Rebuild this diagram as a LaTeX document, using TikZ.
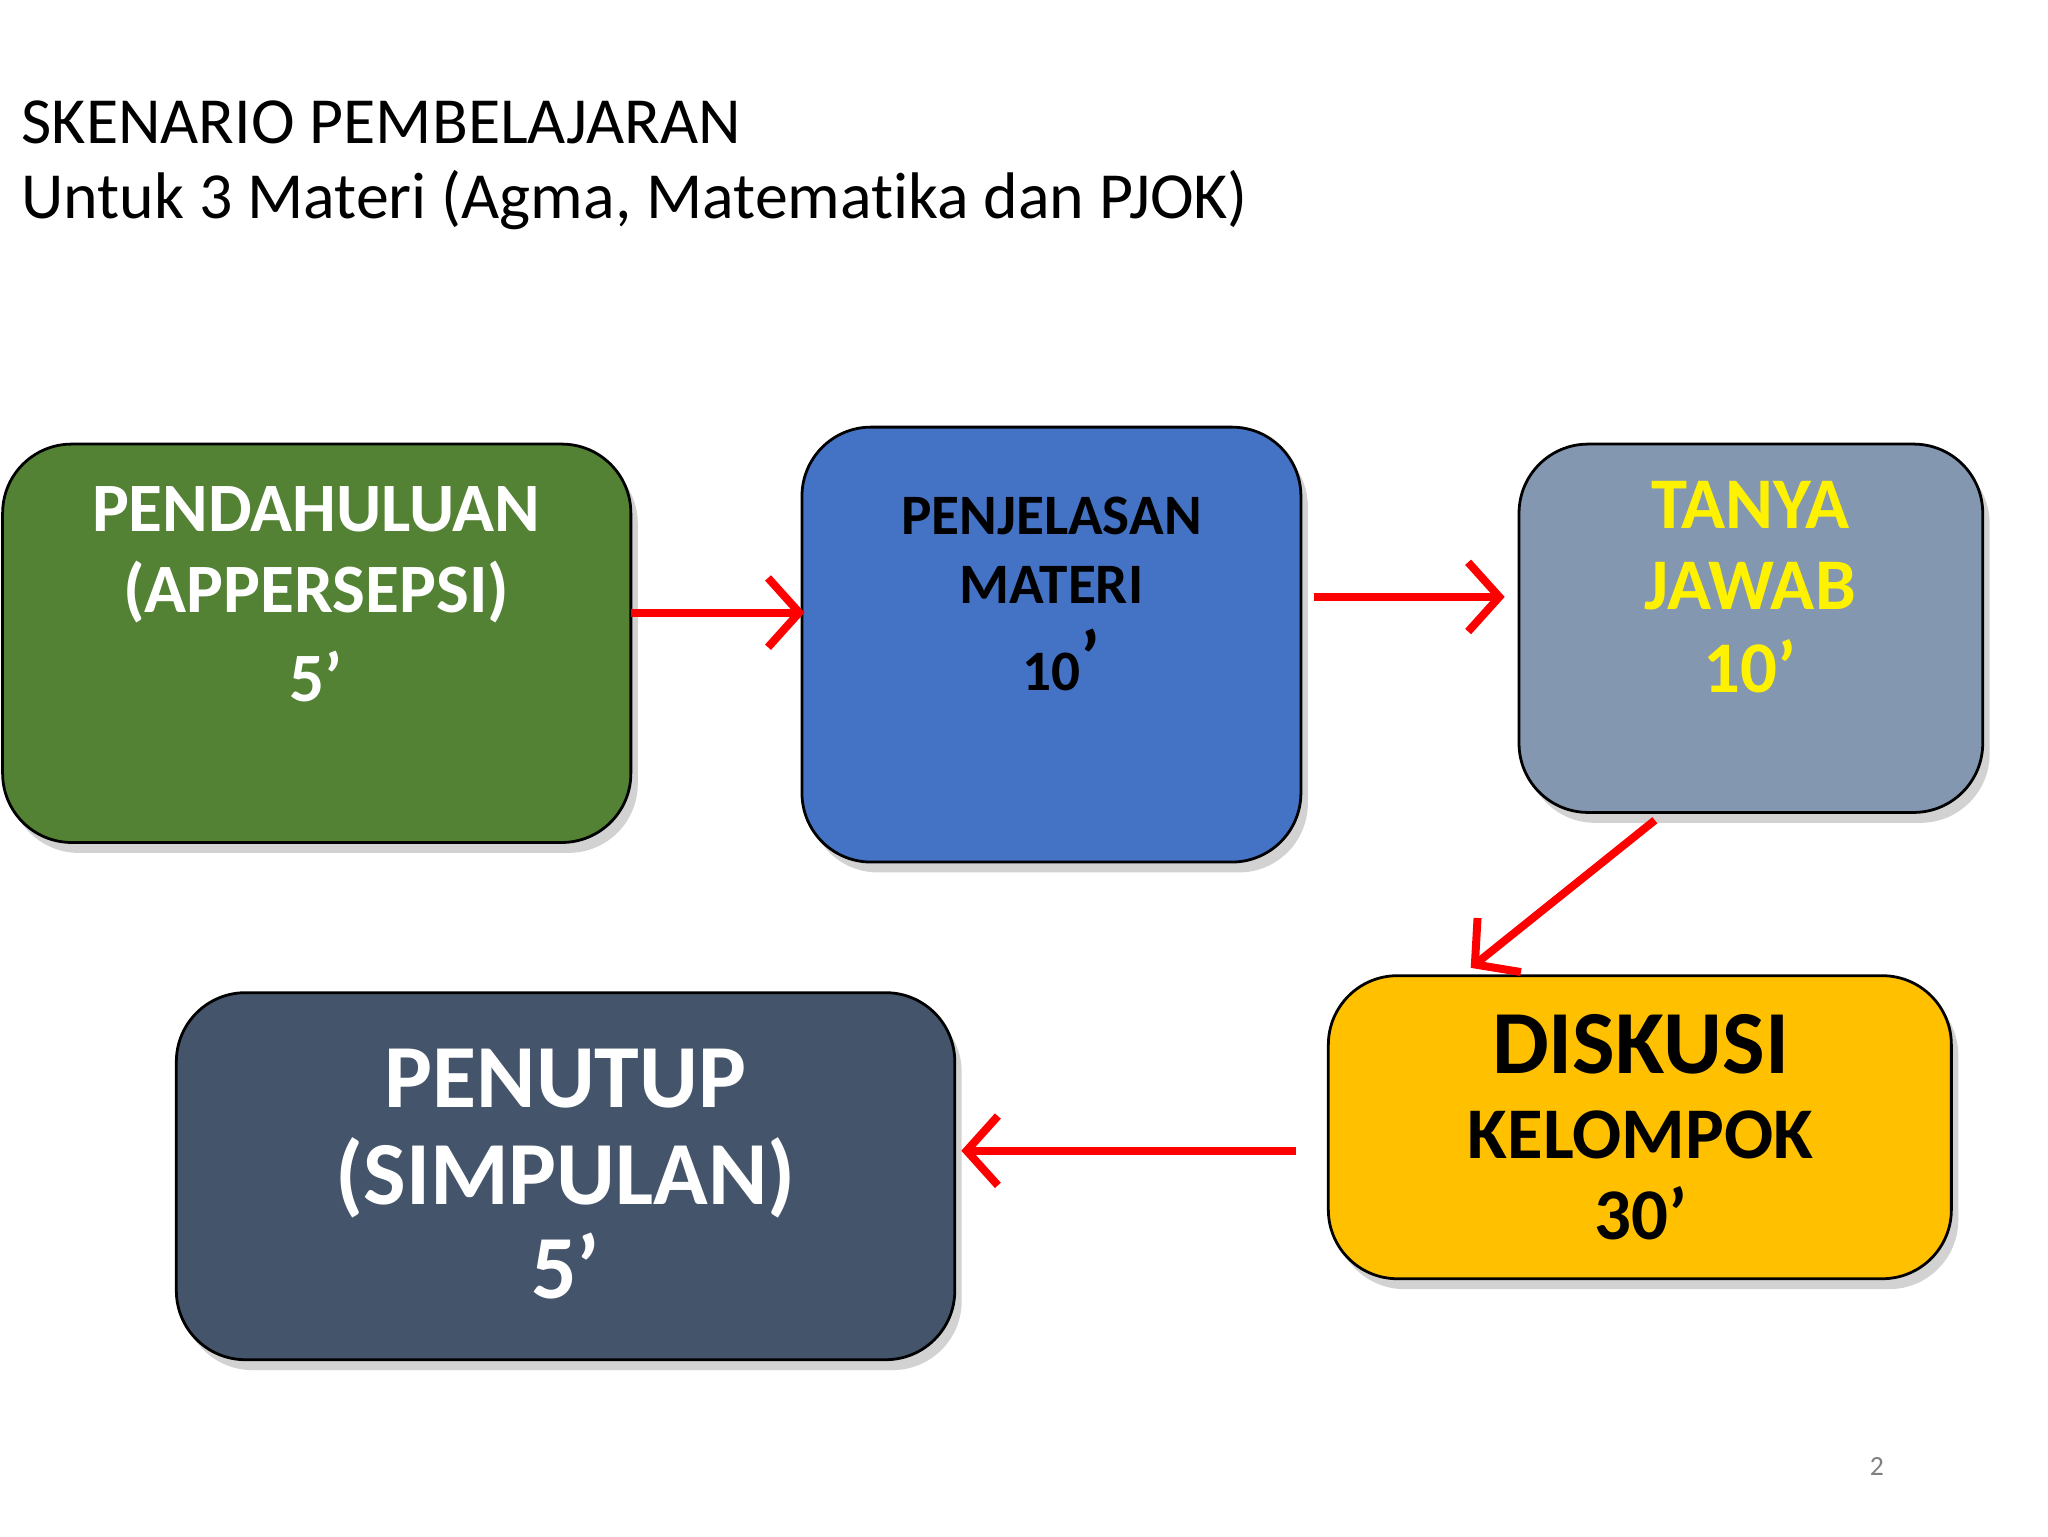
\documentclass[tikz,border=0pt]{standalone}
\usepackage{fontspec}
\setmainfont[Ligatures={NoCommon}]{Carlito}
\usetikzlibrary{arrows.meta,shadows}
\definecolor{cgreen}{HTML}{548235}
\definecolor{cblue}{HTML}{4472C4}
\definecolor{cgrey}{HTML}{8497B0}
\definecolor{cyel}{HTML}{FFC000}
\definecolor{cdark}{HTML}{44546A}
\definecolor{cred}{HTML}{FF0000}
\tikzset{
 box/.style={draw=black,line width=0.8pt,rounded corners=0.7cm,drop shadow={shadow xshift=2pt,shadow yshift=-3pt,opacity=0.35}},
 lbl/.style={font=\bfseries,anchor=base},
 arr/.style={cred,line width=2.3pt,-{Straight Barb[length=9pt,width=20pt,line width=2.3pt]}}
}
\begin{document}
\begin{tikzpicture}[x=0.01325cm,y=-0.01325cm]
\useasboundingbox (0,0) rectangle (1568,1176);
\fill[white] (0,0) rectangle (1568,1176);
\node[anchor=base west,font=\fontsize{19pt}{23pt}\selectfont,inner sep=0] (t1) at (16,110) {SKENARIO PEMBELAJARAN};
\node[anchor=base west,font=\fontsize{19pt}{23pt}\selectfont,inner sep=0] (t2) at (16,167) {Untuk 3 Materi (Agma, Matematika dan PJOK)};
% boxes
\filldraw[box,fill=cgreen] (2,340) rectangle (483,645);
\filldraw[box,fill=cblue] (614,327) rectangle (996,660);
\filldraw[box,fill=cgrey] (1163,340) rectangle (1518,622);
\filldraw[box,fill=cyel] (1017,747) rectangle (1494,979);
\filldraw[box,fill=cdark] (135,760) rectangle (731,1041);
% texts
\begin{scope}[every node/.style={lbl,text=white,font=\bfseries\fontsize{20pt}{24pt}\selectfont}]
\node (p1) at (242,407) {PENDAHULUAN};
\node (p2) at (242,469) {(APPERSEPSI)};
\node (p3) at (242,537) {5’};
\end{scope}
\begin{scope}[every node/.style={lbl,text=black,font=\bfseries\fontsize{16.5pt}{20pt}\selectfont}]
\node (m1) at (805,409) {PENJELASAN};
\node (m2) at (805,462) {MATERI};
\node (m3) at (805,529) {10\rlap{\raisebox{2pt}{\fontsize{22pt}{22pt}\selectfont ’}}};
\end{scope}
\begin{scope}[every node/.style={lbl,text=yellow,font=\bfseries\fontsize{21pt}{25pt}\selectfont}]
\node (j1) at (1340,405) {TANYA};
\node (j2) at (1340,467) {JAWAB};
\node (j3) at (1340,530) {10’};
\end{scope}
\node[lbl,font=\bfseries\fontsize{26pt}{30pt}\selectfont] (d1) at (1256,822) {DISKUSI};
\node[lbl,font=\bfseries\fontsize{21pt}{25pt}\selectfont] (d2) at (1256,887) {KELOMPOK};
\node[lbl,font=\bfseries\fontsize{21pt}{25pt}\selectfont] (d3) at (1256,949) {30’};
\begin{scope}[every node/.style={lbl,text=white,font=\bfseries\fontsize{26pt}{30pt}\selectfont}]
\node (s1) at (433,848) {PENUTUP};
\node (s2) at (433,922) {(SIMPULAN)};
\node (s3) at (433,994) {5’};
\end{scope}
\node[anchor=base,text=gray,font=\fontsize{8pt}{10pt}\selectfont] (pg) at (1437,1130) {2};
% arrows
\coordinate (a1s) at (483,469); \coordinate (a1e) at (616,469);
\coordinate (a2s) at (1006,457); \coordinate (a2e) at (1152,457);
\coordinate (a3s) at (1267,628); \coordinate (a3e) at (1126,741);
\coordinate (a4s) at (992,881); \coordinate (a4e) at (736,881);
\draw[arr] (a1s) -- (a1e);
\draw[arr] (a2s) -- (a2e);
\draw[arr] (a3s) -- (a3e);
\draw[arr] (a4s) -- (a4e);
\end{tikzpicture}
\end{document}
